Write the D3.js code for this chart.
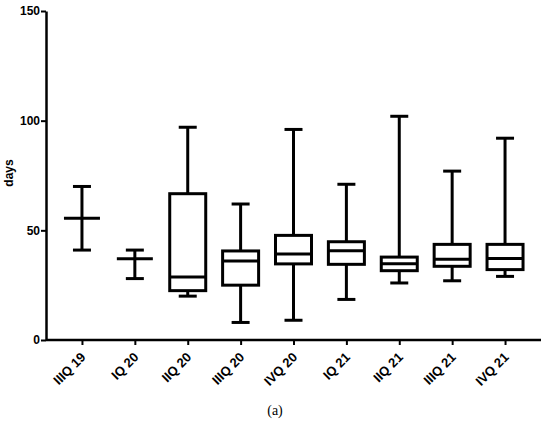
<!DOCTYPE html>
<html>
<head>
<meta charset="utf-8">
<script src="https://cdn.jsdelivr.net/npm/d3@7"></script>
<style>
  body { margin: 0; background: #fff; }
</style>
</head>
<body>
<svg id="chart"></svg>
<script>
var w = 550;
var h = 423;

// quarters and box stats (days)
var quarters = ["IIIQ 19", "IQ 20", "IIQ 20", "IIIQ 20", "IVQ 20", "IQ 21", "IIQ 21", "IIIQ 21", "IVQ 21"];
var mins    = [41, 28, 20, 8,  9,  18.5, 26,  27, 29];
var q1s     = [55.5, 37, 22.5, 25, 34.7, 34.5, 31.6, 33.6, 32.1];
var medians = [55.5, 37, 28.7, 36, 39.2, 40.7, 34.8, 36.8, 37.2];
var q3s     = [55.5, 37, 66.7, 40.6, 47.7, 44.8, 37.8, 43.6, 43.6];
var maxs    = [70, 41, 97, 62, 96, 71, 102, 77, 92];
var yTicks  = [0, 50, 100, 150];

var font = "'Liberation Sans', Arial, sans-serif";

let svg = d3.select("#chart")
    .attr("width", w)
    .attr("height", h);

let xScale = d3.scalePoint()
    .domain(quarters)
    .range([46, 541])
    .padding(0.68);

let yScale = d3.scaleLinear()
    .domain([0, 150])
    .range([340, 11]);

let boxW = 36;
let capW = 18;

let boxes = quarters.map((q, i) => ({
    q: q, min: mins[i], q1: q1s[i], med: medians[i], q3: q3s[i], max: maxs[i]
}));

//whiskers and boxes
let g = svg.append("g")
    .attr("stroke", "#000")
    .attr("stroke-width", 3)
    .attr("fill", "none");

boxes.forEach(d => {
    let x = xScale(d.q);
    g.append("line")
        .attr("x1", x).attr("x2", x)
        .attr("y1", yScale(d.max)).attr("y2", yScale(d.q3));
    g.append("line")
        .attr("x1", x).attr("x2", x)
        .attr("y1", yScale(d.q1)).attr("y2", yScale(d.min));
    g.append("line")
        .attr("x1", x - capW / 2).attr("x2", x + capW / 2)
        .attr("y1", yScale(d.max)).attr("y2", yScale(d.max));
    g.append("line")
        .attr("x1", x - capW / 2).attr("x2", x + capW / 2)
        .attr("y1", yScale(d.min)).attr("y2", yScale(d.min));
    if (d.q3 > d.q1) {
        g.append("rect")
            .attr("x", x - boxW / 2)
            .attr("y", yScale(d.q3))
            .attr("width", boxW)
            .attr("height", yScale(d.q1) - yScale(d.q3))
            .attr("fill", "#fff");
    }
    g.append("line")
        .attr("x1", x - boxW / 2).attr("x2", x + boxW / 2)
        .attr("y1", yScale(d.med)).attr("y2", yScale(d.med));
});

//axes
let xAxis = d3.axisBottom(xScale)
    .tickSize(5)
    .tickSizeOuter(0);
let yAxis = d3.axisLeft(yScale)
    .tickValues(yTicks)
    .tickSize(5)
    .tickSizeOuter(0);

let xg = svg.append("g")
    .attr("transform", `translate(0, ${yScale(0)})`)
    .call(xAxis);
xg.select(".domain").attr("stroke-width", 2.5).attr("d", "M46,0H541");
xg.selectAll(".tick line").attr("stroke-width", 2);
xg.selectAll(".tick text")
    .style("font-family", font)
    .style("font-weight", "bold")
    .style("font-size", "13px")
    .attr("text-anchor", "end")
    .attr("x", 0).attr("y", 0)
    .attr("dx", 0).attr("dy", 0)
    .attr("transform", "translate(4,18) rotate(-45)");

let yg = svg.append("g")
    .attr("transform", "translate(46, 0)")
    .call(yAxis);
yg.select(".domain").attr("stroke-width", 2.5);
yg.selectAll(".tick line").attr("stroke-width", 2);
yg.selectAll(".tick text")
    .style("font-family", font)
    .style("font-weight", "bold")
    .style("font-size", "12px")
    .attr("x", -6);

svg.append("text")
    .attr("transform", "translate(13, 173) rotate(-90)")
    .attr("text-anchor", "middle")
    .style("font-family", font)
    .style("font-weight", "bold")
    .style("font-size", "12px")
    .text("days");

svg.append("text")
    .attr("x", 275)
    .attr("y", 415)
    .attr("text-anchor", "middle")
    .style("font-family", "'Liberation Serif', 'Times New Roman', serif")
    .style("font-size", "14px")
    .text("(a)");
</script>
</body>
</html>
